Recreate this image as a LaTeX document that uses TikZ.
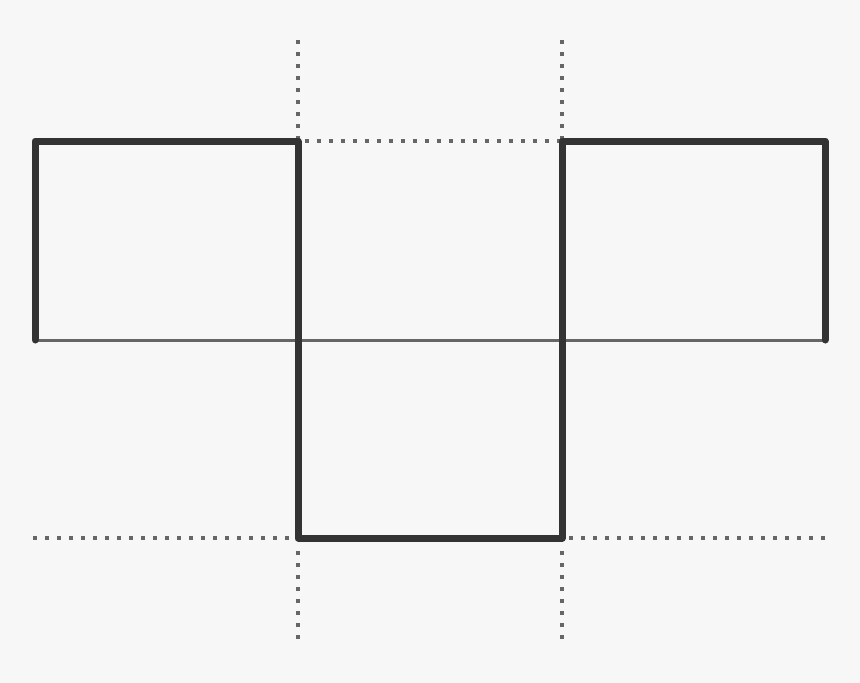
\documentclass[tikz,border=0pt]{standalone}
\begin{document}
\begin{tikzpicture}[x=1pt,y=-1pt,
  wave/.style={draw=black!80,line width=7pt,line cap=round,line join=round},
  axisline/.style={draw=black!60,line width=3pt},
  guide/.style={draw=black!60,line width=4pt,dash pattern=on 4pt off 8pt}]
\fill[black!3] (0,0) rectangle (860,683);
\useasboundingbox (0,0) rectangle (860,683);
\coordinate (a0) at (35,340);
\coordinate (a1) at (825,340);
\draw[axisline] (a0) -- (a1);
% vertical guides
\draw[guide] (298,40) -- (298,141);
\draw[guide] (562,40) -- (562,141);
\draw[guide] (298,551) -- (298,640);
\draw[guide] (562,551) -- (562,640);
% horizontal guides
\draw[guide] (305,141) -- (560,141);
\draw[guide] (33,538) -- (292,538);
\draw[guide] (569,538) -- (830,538);
% wave
\draw[wave] (35,340) -- (35,141) -- (298,141) -- (298,538) -- (562,538) -- (562,141) -- (825,141) -- (825,340);
\end{tikzpicture}
\end{document}
